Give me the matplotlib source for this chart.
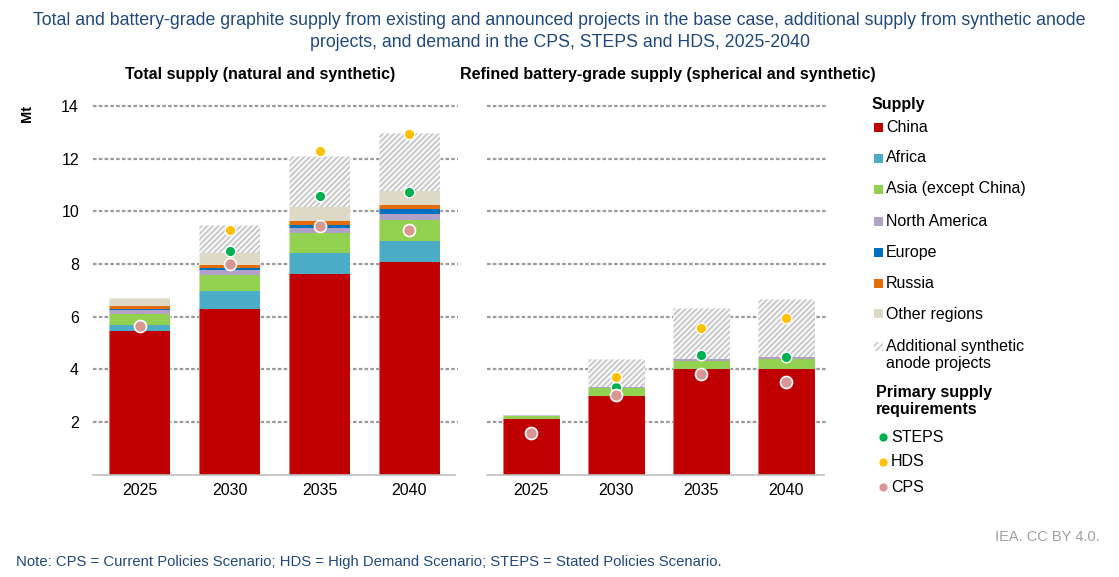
import matplotlib
matplotlib.use("Agg")
import matplotlib.pyplot as plt
import numpy as np
from matplotlib.patches import Rectangle
from matplotlib.lines import Line2D

plt.rcParams['font.family'] = ['Liberation Sans', 'DejaVu Sans']
plt.rcParams['hatch.linewidth'] = 1.2

years = ["2025", "2030", "2035", "2040"]

# Left panel: total supply (Mt)
china_L = [5.46, 6.28, 7.63, 8.06]
africa_L = [0.21, 0.69, 0.80, 0.82]
asia_L = [0.44, 0.60, 0.73, 0.77]
namerica_L = [0.13, 0.19, 0.20, 0.23]
europe_L = [0.05, 0.10, 0.13, 0.21]
russia_L = [0.11, 0.09, 0.13, 0.16]
other_L = [0.29, 0.48, 0.55, 0.52]
synth_L = [0.00, 1.03, 1.91, 2.19]
steps_L = [5.65, 8.50, 10.59, 10.74]
hds_L = [5.65, 9.29, 12.28, 12.92]
cps_L = [5.65, 7.98, 9.45, 9.29]

# Right panel: refined battery-grade supply (Mt)
china_R = [2.10, 3.00, 4.00, 4.02]
africa_R = [0.0, 0.0, 0.0, 0.0]
asia_R = [0.14, 0.28, 0.33, 0.36]
namerica_R = [0.02, 0.04, 0.07, 0.08]
europe_R = [0.0, 0.0, 0.0, 0.0]
russia_R = [0.0, 0.0, 0.0, 0.0]
other_R = [0.02, 0.0, 0.0, 0.0]
synth_R = [0.00, 1.06, 1.92, 2.20]
steps_R = [1.60, 3.33, 4.55, 4.47]
hds_R = [1.60, 3.70, 5.56, 5.94]
cps_R = [1.60, 3.02, 3.83, 3.53]

region_names = ["China", "Africa", "Asia (except China)", "North America",
                "Europe", "Russia", "Other regions"]
region_colors = ["#c00000", "#4bacc6", "#92d050", "#b1a0c7",
                 "#0070c0", "#e46c0a", "#ddd9c4"]
steps_c, hds_c, cps_c = "#00b050", "#ffc000", "#d99694"

FS = 11.5

fig = plt.figure(figsize=(11.19, 5.77), dpi=100)
axL = fig.add_axes([0.0831, 0.1773, 0.3262, 0.653])
axR = fig.add_axes([0.4352, 0.1773, 0.3038, 0.653])

def draw(ax, layers, synth, steps, hds, cps, xlim, width):
    x = np.arange(len(years))
    bottom = np.zeros(len(years))
    for vals, col in zip(layers, region_colors):
        v = np.array(vals)
        ax.bar(x, v, width, bottom=bottom, color=col, edgecolor="none", zorder=2)
        bottom += v
    s = np.array(synth)
    ax.bar(x, s, width, bottom=bottom, facecolor="#f7f7f7", edgecolor="#c4c4c4",
           hatch="//////", linewidth=0, zorder=2)
    bottom += s
    ax.bar(x, bottom, width, facecolor="none", edgecolor=(1, 1, 1, 0.45),
           linewidth=0.8, zorder=2.5)
    ax.scatter(x, steps, s=58, color=steps_c, edgecolor="white", linewidth=1, zorder=4)
    ax.scatter(x, hds, s=58, color=hds_c, edgecolor="white", linewidth=1, zorder=4)
    ax.scatter(x, cps, s=75, color=cps_c, edgecolor="white", linewidth=1.2, zorder=5)
    ax.set_xlim(*xlim)
    ax.set_ylim(0, 14.3)
    ax.set_xticks(x)
    ax.set_xticklabels(years, fontsize=FS)
    ax.set_yticks([2, 4, 6, 8, 10, 12, 14])
    ax.yaxis.grid(True, color="#9a9a9a", linestyle=(0, (1.6, 1.0)), linewidth=1.6, zorder=0)
    ax.set_axisbelow(True)
    for sp in ["top", "right", "left"]:
        ax.spines[sp].set_visible(False)
    ax.spines["bottom"].set_color("#bfbfbf")
    ax.spines["bottom"].set_linewidth(1.2)
    ax.spines["bottom"].set_bounds(xlim[0], xlim[1] - 0.03)
    ax.tick_params(axis="both", length=0)
    ax.tick_params(axis="x", pad=6)

draw(axL, [china_L, africa_L, asia_L, namerica_L, europe_L, russia_L, other_L],
     synth_L, steps_L, hds_L, cps_L, (-0.52, 3.54), 0.68)
draw(axR, [china_R, africa_R, asia_R, namerica_R, europe_R, russia_R, other_R],
     synth_R, steps_R, hds_R, cps_R, (-0.52, 3.48), 0.67)

axL.tick_params(axis="y", pad=10, labelsize=FS)
axR.set_yticklabels([])

fig.text(0.024, 1 - 113 / 577, "Mt", rotation=90, fontsize=10.5, fontweight="bold",
         ha="center", va="center")

fig.text(0.5, 1 - 31.5 / 577, "Total and battery-grade graphite supply from existing and announced projects in the base case, additional supply from synthetic anode\nprojects, and demand in the CPS, STEPS and HDS, 2025-2040",
         ha="center", va="center", fontsize=12.8, color="#1f497d", linespacing=1.38)
fig.text(260 / 1119, 1 - 74 / 577, "Total supply (natural and synthetic)", ha="center", va="center",
         fontsize=FS, fontweight="bold")
fig.text(668 / 1119, 1 - 74 / 577, "Refined battery-grade supply (spherical and synthetic)", ha="center",
         va="center", fontsize=FS, fontweight="bold")

# Legend (manual)
def fy(py):
    return 1 - py / 577
fig.text(872 / 1119, fy(104), "Supply", fontsize=FS, fontweight="bold", va="center", ha="left")
item_y = [127, 158, 189, 221, 252, 283, 314]
for name, col, py in zip(region_names, region_colors, item_y):
    fig.patches.append(Rectangle((874 / 1119, fy(py) - 4.5 / 577), 9 / 1119, 9 / 577,
                                 transform=fig.transFigure, facecolor=col, edgecolor="none"))
    fig.text(886 / 1119, fy(py), name, fontsize=FS, va="center", ha="left")
fig.patches.append(Rectangle((874 / 1119, fy(346) - 4.5 / 577), 9 / 1119, 9 / 577,
                             transform=fig.transFigure, facecolor="white", edgecolor="#c8c8c8",
                             hatch="/////", linewidth=0))
fig.text(886 / 1119, fy(355), "Additional synthetic\nanode projects", fontsize=FS,
         va="center", ha="left", linespacing=1.15)
fig.text(876 / 1119, fy(401), "Primary supply\nrequirements", fontsize=FS, fontweight="bold",
         va="center", ha="left", linespacing=1.15)
for name, col, py in zip(["STEPS", "HDS", "CPS"], [steps_c, hds_c, cps_c], [437, 462, 487]):
    fig.lines.append(Line2D([883 / 1119], [fy(py)], marker="o", markersize=6.5, color=col,
                            markeredgecolor="white", markeredgewidth=0.5,
                            transform=fig.transFigure))
    fig.text(891 / 1119, fy(py), name, fontsize=FS, va="center", ha="left")

fig.text(1100 / 1119, fy(537), "IEA. CC BY 4.0.", fontsize=10.5, color="#a0a0a0", ha="right", va="center")
fig.text(16 / 1119, fy(562), "Note: CPS = Current Policies Scenario; HDS = High Demand Scenario; STEPS = Stated Policies Scenario.",
         fontsize=10.7, color="#1f497d", ha="left", va="center")

fig.savefig("out.png", dpi=100)
